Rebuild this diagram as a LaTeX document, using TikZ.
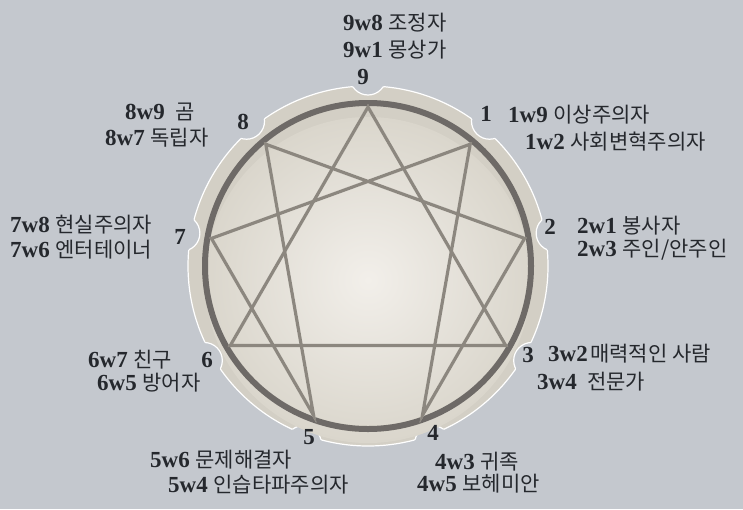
\documentclass[tikz,border=0pt]{standalone}
\usepackage{fontspec}
\setmainfont{Liberation Serif}
\newfontfamily\krfont{Noto Sans CJK KR}
\newcommand\ko[1]{{\krfont\fontsize{21}{24}\selectfont #1}}
\newcommand\nm[1]{{\bfseries #1}}
\definecolor{bg}{HTML}{C4C8CE}
\definecolor{ring}{HTML}{D3CFC5}
\definecolor{innerc}{HTML}{F2EFEA}
\definecolor{outerc}{HTML}{DAD6CC}
\definecolor{darkring}{HTML}{6E6A67}
\definecolor{lineg}{HTML}{8C877F}
\definecolor{txt}{HTML}{25282D}
\tikzset{
  lbl/.style={anchor=base west, inner sep=0pt, text=txt, font=\fontsize{23}{26}\selectfont},
  numlbl/.style={inner sep=0pt, text=txt, font=\fontsize{23}{26}\selectfont\bfseries},
  hi/.style={white, line width=2.6pt, line cap=round},
  ln/.style={lineg, line width=3.2pt, line cap=round},
}
\begin{document}
\begin{tikzpicture}[x=1pt,y=-1pt]
\useasboundingbox (0,0) rectangle (743,509);
\fill[bg] (0,0) rectangle (743,509);
\coordinate (c) at (368,266);
% outer disc
\fill[ring] (c) circle[radius=180];
\draw[white, line width=1.2pt] (c) circle[radius=180];
% notches
\foreach \a in {90,50,10,-30,-70,-110,-150,170,130}{
  \fill[bg] ({368+189*cos(\a)},{266-189*sin(\a)}) circle[radius=18];
}
\begin{scope}
\clip (c) circle[radius=180];
\foreach \a in {90,50,10,-30,-70,-110,-150,170,130}{
  \draw[white, line width=1.2pt] ({368+189*cos(\a)},{266-189*sin(\a)}) circle[radius=18];
}
\end{scope}
% inner disc
\shade[inner color=innerc, outer color=outerc] (368,280) circle[radius=163];
\draw[darkring, line width=6pt] (c) circle[radius=163];
% points
\foreach \a/\n in {90/9,50/1,10/2,-30/3,-70/4,-110/5,-150/6,170/7,130/8}{
  \coordinate (p\n) at ({368+159*cos(\a)},{266-159*sin(\a)});
}
% lines (highlight then gray)
\begin{scope}[shift={(-1.2,-1.2)}]
\draw[hi] (p9) -- (p3) -- (p6) -- cycle;
\draw[hi] (p1) -- (p4) -- (p2) -- (p8) -- (p5) -- (p7) -- cycle;
\end{scope}
\draw[ln] (p9) -- (p3) -- (p6) -- cycle;
\draw[ln] (p1) -- (p4) -- (p2) -- (p8) -- (p5) -- (p7) -- cycle;
% number labels
\node[numlbl] (n9) at (363,77) {9};
\node[numlbl] (n8) at (243,122) {8};
\node[numlbl] (n1) at (486,114) {1};
\node[numlbl] (n2) at (550,227) {2};
\node[numlbl] (n7) at (180,237) {7};
\node[numlbl] (n6) at (207,360) {6};
\node[numlbl] (n3) at (528,355) {3};
\node[numlbl] (n5) at (309,437) {5};
\node[numlbl] (n4) at (433,433) {4};
% wing labels
\node[lbl] (t98) at (343,30) {\nm{9w8} \ko{조정자}};
\node[lbl] (t91) at (343,57) {\nm{9w1} \ko{몽상가}};
\node[lbl] (t89) at (125,119) {\nm{8w9}\hspace{0.45em}\ko{곰}};
\node[lbl] (t87) at (105,145) {\nm{8w7} \ko{독립자}};
\node[lbl] (t19) at (508,122) {\nm{1w9} \ko{이상주의자}};
\node[lbl] (t12) at (525,149) {\nm{1w2} \ko{사회변혁주의자}};
\node[lbl] (t78) at (10,232) {\nm{7w8} \ko{현실주의자}};
\node[lbl] (t76) at (10,257) {\nm{7w6} \ko{엔터테이너}};
\node[lbl] (t21) at (577,233) {\nm{2w1} \ko{봉사자}};
\node[lbl] (t23) at (577,256) {\nm{2w3} \ko{주인/안주인}};
\node[lbl] (t67) at (88,367) {\nm{6w7} \ko{친구}};
\node[lbl] (t65) at (97,390) {\nm{6w5} \ko{방어자}};
\node[lbl] (t32) at (548,361) {\nm{3w2}\hspace{0.1em}\ko{매력적인 사람}};
\node[lbl] (t34) at (537,389) {\nm{3w4}\hspace{0.45em}\ko{전문가}};
\node[lbl] (t56) at (150,467) {\nm{5w6} \ko{문제해결자}};
\node[lbl] (t54) at (168,492) {\nm{5w4} \ko{인습타파주의자}};
\node[lbl] (t43) at (435,469) {\nm{4w3} \ko{귀족}};
\node[lbl] (t45) at (417,491) {\nm{4w5} \ko{보헤미안}};
\end{tikzpicture}
\end{document}
